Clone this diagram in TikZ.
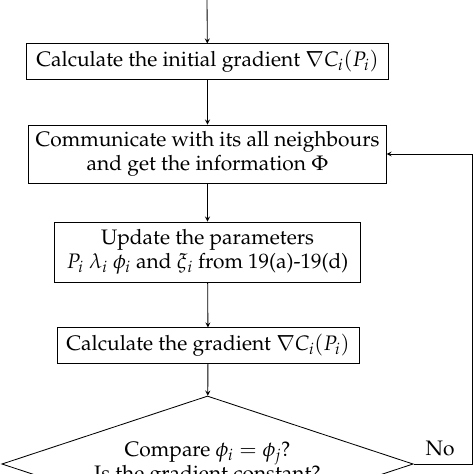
\documentclass[tikz,border=0pt]{standalone}
\usepackage[T1]{fontenc}
\usepackage{mathpazo}
\usetikzlibrary{shapes.geometric}
\begin{document}
\begin{tikzpicture}[x=0.025cm, y=-0.025cm, >=stealth, line width=0.6pt, font=\fontsize{14.9}{17}\selectfont]
    \tikzset{blk/.style={draw, align=center, inner sep=0pt},
             dec/.style={draw, diamond, aspect=3, align=center, inner sep=0pt}}
    \useasboundingbox (0,0) rectangle (474,474);
				\coordinate (start) at (207,0);
				\node[blk, minimum width=9.03cm, minimum height=0.88cm] (initgrad) at (207.5,61.5) {Calculate the initial gradient $\nabla C_i(P_i)$};
				\node[blk, minimum width=8.93cm, minimum height=1.45cm] (comm) at (207.5,154) {Communicate with its all neighbours\\and get the information $\Phi$};
				\node[blk, minimum width=7.63cm, minimum height=1.5cm] (update) at (207.5,252) {Update the parameters\\$P_i$ $\lambda_i$ $\phi_i$ and $\xi_i$ from 19(a)-19(d)};
				\node[blk, minimum width=7.55cm, minimum height=0.88cm] (grad) at (208,345.5) {Calculate the gradient $\nabla C_i(P_i)$};
				\node[dec, minimum width=10.28cm, minimum height=3.4cm] (cmp) at (207.5,464) {Compare $\phi_i=\phi_j$?\\Is the gradient constant?};
				\draw[->] (start) -- (initgrad);
				\draw[->] (initgrad) -- (comm);
				\draw[->] (comm) -- (update);
				\draw[->] (update) -- (grad);
				\draw[->] (grad) -- (cmp);
				\draw[->] (cmp.east) -- ++(59,0) node[pos=0.45, above=2pt]{No} |- (comm.east);
\end{tikzpicture}
\end{document}
